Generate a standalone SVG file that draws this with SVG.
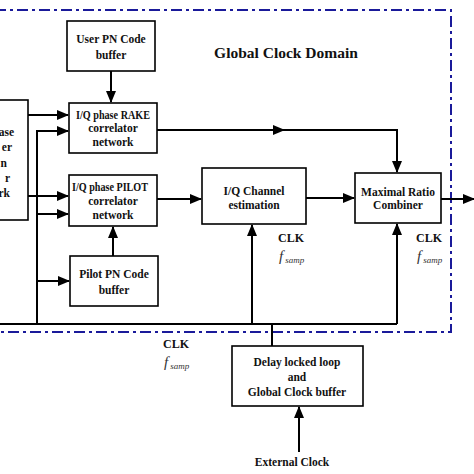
<svg xmlns="http://www.w3.org/2000/svg" width="474" height="474" viewBox="0 0 474 474">
<defs>
<style>
.box{fill:#fff;stroke:#000;stroke-width:1.6}
.t{font-family:"Liberation Serif","Times New Roman",serif;font-weight:bold;font-size:11.5px;text-anchor:middle;fill:#111}
.ln{fill:none;stroke:#000;stroke-width:2}
.dom{fill:none;stroke:#1a1a9a;stroke-width:2;stroke-dasharray:11 4 3 4}
.clk{font-family:"Liberation Serif","Times New Roman",serif;font-weight:bold;font-size:12px;fill:#111}
.f{font-family:"Liberation Serif","Times New Roman",serif;font-style:italic;font-size:15px;fill:#333}
.s{font-size:9px}
</style>
<marker id="ah" markerWidth="12" markerHeight="10" refX="11" refY="5" orient="auto" markerUnits="userSpaceOnUse">
<path d="M0,0 L12,5 L0,10 z" fill="#000"/>
</marker>
</defs>
<rect width="474" height="474" fill="#fff"/>
<path class="dom" d="M-5,10 L451,10 L451,332 L-5,332"/>
<text x="286" y="58" font-family="Liberation Serif, Times New Roman, serif" font-weight="bold" font-size="15.5" text-anchor="middle" fill="#111">Global Clock Domain</text>
<g id="connectors">
<path class="ln" d="M28,115 L68,115" marker-end="url(#ah)"/>
<path class="ln" d="M28,196 L68,196" marker-end="url(#ah)"/>
<path class="ln" d="M37,324 L37,131 L68,131" marker-end="url(#ah)"/>
<path class="ln" d="M37,214 L68,214" marker-end="url(#ah)"/>
<path class="ln" d="M37,281 L69,281" marker-end="url(#ah)"/>
<path class="ln" d="M0,324 L397,324"/>
<path class="ln" d="M111,71 L111,102" marker-end="url(#ah)"/>
<path class="ln" d="M157,130 L284,130" marker-end="url(#ah)"/>
<path class="ln" d="M280,130 L397,130 L397,172" marker-end="url(#ah)"/>
<path class="ln" d="M157,199 L201,199" marker-end="url(#ah)"/>
<path class="ln" d="M306,198 L354,198" marker-end="url(#ah)"/>
<path class="ln" d="M441,199 L474,199" marker-end="url(#ah)"/>
<path class="ln" d="M113,256 L113,227" marker-end="url(#ah)"/>
<path class="ln" d="M252,324 L252,225" marker-end="url(#ah)"/>
<path class="ln" d="M397,324 L397,224" marker-end="url(#ah)"/>
<path class="ln" d="M272,346 L272,324"/>
<path class="ln" d="M299,452 L299,407" marker-end="url(#ah)"/>
</g>
<g id="left-box">
<rect class="box" x="-20" y="100" width="48" height="120"/>
<text class="t" x="14" y="136" style="text-anchor:end">ase</text>
<text class="t" x="12" y="151" style="text-anchor:end">er</text>
<text class="t" x="7" y="167" style="text-anchor:end">n</text>
<text class="t" x="10" y="182" style="text-anchor:end">r</text>
<text class="t" x="10" y="197" style="text-anchor:end">rk</text>
</g>
<g id="user-pn">
<rect class="box" x="67" y="21" width="88" height="50"/>
<text class="t" x="111" y="43">User PN Code</text>
<text class="t" x="111" y="59">buffer</text>
</g>
<g id="rake">
<rect class="box" x="69" y="103" width="88" height="50"/>
<text class="t" x="113" y="119" textLength="74" lengthAdjust="spacingAndGlyphs">I/Q phase RAKE</text>
<text class="t" x="113" y="132">correlator</text>
<text class="t" x="113" y="146">network</text>
</g>
<g id="pilot">
<rect class="box" x="69" y="175" width="88" height="51"/>
<text class="t" x="110" y="191" textLength="76" lengthAdjust="spacingAndGlyphs">I/Q phase PILOT</text>
<text class="t" x="113" y="205">correlator</text>
<text class="t" x="113" y="219">network</text>
</g>
<g id="pilot-pn">
<rect class="box" x="70" y="256" width="88" height="50"/>
<text class="t" x="114" y="278">Pilot PN Code</text>
<text class="t" x="114" y="294">buffer</text>
</g>
<g id="chan-est">
<rect class="box" x="202" y="168" width="104" height="56"/>
<text class="t" x="254" y="195">I/Q Channel</text>
<text class="t" x="254" y="209">estimation</text>
</g>
<g id="mrc">
<rect class="box" x="355" y="173" width="86" height="50"/>
<text class="t" x="398" y="196">Maximal Ratio</text>
<text class="t" x="398" y="209">Combiner</text>
</g>
<g id="dll">
<rect class="box" x="232" y="346" width="131" height="60"/>
<text class="t" x="297" y="366">Delay locked loop</text>
<text class="t" x="297" y="381">and</text>
<text class="t" x="297" y="396">Global Clock buffer</text>
</g>
<text class="t" x="292" y="466">External Clock</text>
<g id="clk-labels">
<text class="clk" x="278" y="242">CLK</text>
<text class="f" x="279" y="261">f<tspan class="s" dx="2" dy="2">samp</tspan></text>
<text class="clk" x="416" y="242">CLK</text>
<text class="f" x="417" y="261">f<tspan class="s" dx="2" dy="2">samp</tspan></text>
<text class="clk" x="163" y="348">CLK</text>
<text class="f" x="164" y="367">f<tspan class="s" dx="2" dy="2">samp</tspan></text>
</g>
</svg>
